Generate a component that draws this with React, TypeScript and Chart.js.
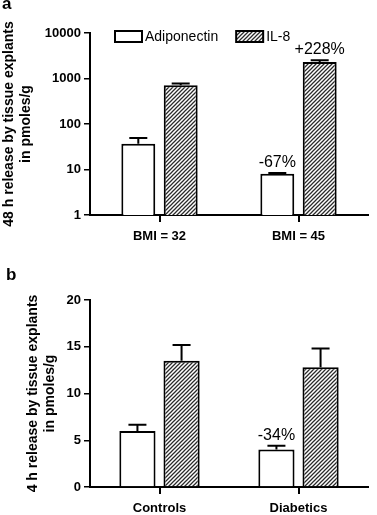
import React, { useEffect, useRef } from "react";
import { Chart, registerables } from "chart.js";
Chart.register(...registerables);

const FONT = "'Liberation Sans', Arial, Helvetica, sans-serif";

// ---- Panel a (log scale) ----
const categoriesA = ["BMI = 32", "BMI = 45"];
const adiponectinA = [37, 8.1];
const adiponectinErrA = [12, 0.3];
const il8A = [710, 2300];
const il8ErrA = [70, 210];
const yTicksA = [1, 10, 100, 1000, 10000];
const yTitleA = ["48 h release by tissue explants", "in pmoles/g"];
const annotationsA = [
  { series: 0, index: 1, text: "-67%" },
  { series: 1, index: 1, text: "+228%" },
];

// ---- Panel b (linear scale) ----
const categoriesB = ["Controls", "Diabetics"];
const adiponectinB = [6.0, 4.0];
const adiponectinErrB = [0.65, 0.4];
const il8B = [13.5, 12.8];
const il8ErrB = [1.7, 2.0];
const yTicksB = [0, 5, 10, 15, 20];
const yTitleB = ["4 h release by tissue explants", "in pmoles/g"];
const annotationsB = [{ series: 0, index: 1, text: "-34%" }];

const seriesNames = ["Adiponectin", "IL-8"];

function makeHatch(): any {
  const s = 4;
  const c = document.createElement("canvas");
  c.width = s;
  c.height = s;
  const g = c.getContext("2d")!;
  g.fillStyle = "#fff";
  g.fillRect(0, 0, s, s);
  g.strokeStyle = "#2a2a2a";
  g.lineWidth = 1.25;
  g.beginPath();
  g.moveTo(0, s);
  g.lineTo(s, 0);
  g.moveTo(-1, 1);
  g.lineTo(1, -1);
  g.moveTo(s - 1, s + 1);
  g.lineTo(s + 1, s - 1);
  g.stroke();
  return g.createPattern(c, "repeat");
}

const errorBarPlugin = {
  id: "errorBars",
  afterDatasetsDraw(chart: any) {
    const ctx = chart.ctx;
    const yScale = chart.scales.y;
    chart.data.datasets.forEach((ds: any, i: number) => {
      const errs = ds.errors;
      if (!errs) return;
      const meta = chart.getDatasetMeta(i);
      meta.data.forEach((el: any, j: number) => {
        const top = yScale.getPixelForValue(ds.data[j] + errs[j]);
        ctx.save();
        ctx.strokeStyle = "#000";
        ctx.lineWidth = 2;
        ctx.beginPath();
        ctx.moveTo(el.x, el.y);
        ctx.lineTo(el.x, top);
        ctx.moveTo(el.x - 9, top);
        ctx.lineTo(el.x + 9, top);
        ctx.stroke();
        ctx.restore();
      });
    });
  },
};

const annotationPlugin = {
  id: "pctLabels",
  afterDatasetsDraw(chart: any, _a: any, opts: any) {
    if (!opts || !opts.items) return;
    const ctx = chart.ctx;
    const yScale = chart.scales.y;
    ctx.save();
    ctx.font = `16px ${FONT}`;
    ctx.fillStyle = "#000";
    ctx.textAlign = "center";
    ctx.textBaseline = "alphabetic";
    opts.items.forEach((it: any) => {
      const ds = chart.data.datasets[it.series];
      const el = chart.getDatasetMeta(it.series).data[it.index];
      const top = yScale.getPixelForValue(ds.data[it.index] + ds.errors[it.index]);
      ctx.fillText(it.text, el.x, top - 6);
    });
    ctx.restore();
  },
};

const legendPlugin = {
  id: "boxLegend",
  afterDraw(chart: any, _a: any, opts: any) {
    if (!opts || !opts.show) return;
    const { ctx, chartArea } = chart;
    let x = chartArea.left + 25;
    const y = chartArea.top - 2;
    ctx.save();
    ctx.font = `14px ${FONT}`;
    ctx.textBaseline = "middle";
    ctx.textAlign = "left";
    chart.data.datasets.forEach((ds: any) => {
      ctx.fillStyle = ds.backgroundColor;
      ctx.fillRect(x, y, 27, 11);
      ctx.strokeStyle = "#000";
      ctx.lineWidth = 2;
      ctx.strokeRect(x, y, 27, 11);
      ctx.fillStyle = "#000";
      ctx.fillText(ds.label, x + 30, y + 6);
      x += 30 + ctx.measureText(ds.label).width + 18;
    });
    ctx.restore();
  },
};

const letterPlugin = {
  id: "panelLetter",
  afterDraw(chart: any, _a: any, opts: any) {
    if (!opts || !opts.text) return;
    const ctx = chart.ctx;
    ctx.save();
    ctx.font = `bold 17px ${FONT}`;
    ctx.fillStyle = "#000";
    ctx.textAlign = "left";
    ctx.textBaseline = "alphabetic";
    ctx.fillText(opts.text, opts.x, opts.y);
    ctx.restore();
  },
};

function makeConfig(p: {
  labels: string[];
  adipo: number[];
  adipoErr: number[];
  il8: number[];
  il8Err: number[];
  ticks: number[];
  title: string[];
  log: boolean;
  hatch: any;
  padTop: number;
  titlePadTop: number;
  xHeight: number;
  cp: number;
  bp: number;
  annotations: any[];
  legend: boolean;
  letter: any;
}): any {
  const ds = (label: string, data: number[], errors: number[], bg: any) => ({
    label,
    data,
    errors,
    backgroundColor: bg,
    borderColor: "#000",
    borderWidth: 2,
    categoryPercentage: p.cp,
    barPercentage: p.bp,
  });
  return {
    type: "bar",
    data: {
      labels: p.labels,
      datasets: [
        ds(seriesNames[0], p.adipo, p.adipoErr, "#ffffff"),
        ds(seriesNames[1], p.il8, p.il8Err, p.hatch),
      ],
    },
    plugins: [errorBarPlugin, annotationPlugin, legendPlugin, letterPlugin],
    options: {
      animation: false,
      responsive: true,
      maintainAspectRatio: false,
      layout: { padding: { left: 0, right: 9, top: p.padTop, bottom: 0 } },
      plugins: {
        legend: { display: false },
        tooltip: { enabled: false },
        pctLabels: { items: p.annotations },
        boxLegend: { show: p.legend },
        panelLetter: p.letter,
      },
      scales: {
        x: {
          type: "category",
          offset: true,
          grid: {
            display: true,
            drawOnChartArea: false,
            drawTicks: true,
            tickLength: 7,
            offset: false,
            color: "#000",
            lineWidth: 2,
          },
          border: { display: true, color: "#000", width: 2 },
          ticks: {
            color: "#000",
            padding: 7,
            maxRotation: 0,
            font: { family: FONT, size: 13, weight: "bold" },
          },
          afterFit: (s: any) => {
            s.height = p.xHeight;
          },
        },
        y: {
          type: p.log ? "logarithmic" : "linear",
          min: p.ticks[0],
          max: p.ticks[p.ticks.length - 1],
          afterBuildTicks: (s: any) => {
            s.ticks = p.ticks.map((v) => ({ value: v }));
          },
          grid: {
            display: true,
            drawOnChartArea: false,
            drawTicks: true,
            tickLength: 6,
            color: "#000",
            lineWidth: 1.5,
          },
          border: { display: true, color: "#000", width: 2 },
          ticks: {
            color: "#000",
            padding: 3,
            font: { family: FONT, size: 13, weight: "bold" },
            callback: (v: any) => String(v),
          },
          title: {
            display: true,
            text: p.title,
            color: "#000",
            padding: { top: p.titlePadTop, bottom: 0 },
            font: { family: FONT, size: 14, weight: "bold", lineHeight: 1.2 },
          },
          afterFit: (s: any) => {
            s.width = 90;
          },
        },
      },
    },
  };
}

export default function App() {
  const refA = useRef<HTMLCanvasElement>(null);
  const refB = useRef<HTMLCanvasElement>(null);
  useEffect(() => {
    Chart.defaults.font.family = FONT;
    Chart.defaults.color = "#000";
    const hatch = makeHatch();
    const a = new Chart(
      refA.current!,
      makeConfig({
        labels: categoriesA,
        adipo: adiponectinA,
        adipoErr: adiponectinErrA,
        il8: il8A,
        il8Err: il8ErrA,
        ticks: yTicksA,
        title: yTitleA,
        log: true,
        hatch,
        padTop: 33,
        titlePadTop: 1,
        xHeight: 40,
        cp: 0.61,
        bp: 0.8,
        annotations: annotationsA,
        legend: true,
        letter: { text: "a", x: 2, y: 9 },
      })
    );
    const b = new Chart(
      refB.current!,
      makeConfig({
        labels: categoriesB,
        adipo: adiponectinB,
        adipoErr: adiponectinErrB,
        il8: il8B,
        il8Err: il8ErrB,
        ticks: yTicksB,
        title: yTitleB,
        log: false,
        hatch,
        padTop: 45,
        titlePadTop: 25,
        xHeight: 28,
        cp: 0.635,
        bp: 0.82,
        annotations: annotationsB,
        legend: false,
        letter: { text: "b", x: 6, y: 25 },
      })
    );
    return () => {
      a.destroy();
      b.destroy();
    };
  }, []);
  return (
    <div
      style={{
        position: "absolute",
        left: 0,
        top: 0,
        width: 377,
        height: 515,
        background: "#fff",
        overflow: "hidden",
      }}
    >
      <div style={{ position: "absolute", left: 0, top: 0, width: 377, height: 255 }}>
        <canvas ref={refA} />
      </div>
      <div style={{ position: "absolute", left: 0, top: 255, width: 377, height: 260 }}>
        <canvas ref={refB} />
      </div>
    </div>
  );
}
